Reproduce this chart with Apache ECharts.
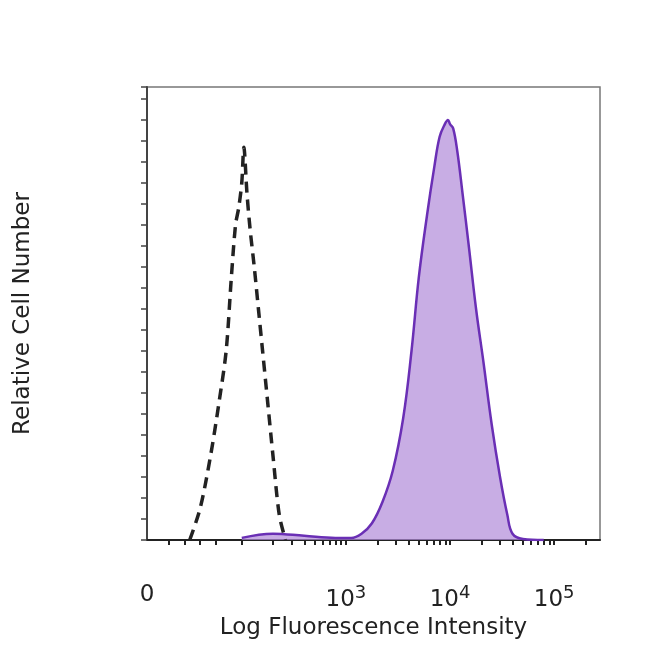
<!DOCTYPE html><html><head><meta charset="utf-8">
<script src="https://cdn.jsdelivr.net/npm/echarts@6/dist/echarts.min.js"></script>
<style>body{margin:0}#c{width:650px;height:650px}</style></head><body><div id="c"></div><script>
// x in display decades (3 = 10^3), y = relative count
const stainedX = [2.0,2.3,2.6,2.9,3.05,3.15,3.25,3.35,3.45,3.55,3.63,3.7,3.78,3.85,3.9,3.95,3.98,4.0,4.03,4.07,4.12,4.18,4.25,4.32,4.4,4.48,4.55,4.6,4.7,4.9];
const stainedY = [0.1,0.3,0.2,0.1,0.1,0.3,0.8,1.8,3.3,5.8,9,12.5,15.5,17.8,19.2,19.8,20,19.8,19.6,18.5,16.5,14,11,8.5,5.5,3,1.2,0.3,0.05,0];
const controlX = [1.5,1.6,1.7,1.78,1.85,1.9,1.94,1.97,2.0,2.02,2.05,2.08,2.12,2.16,2.2,2.25,2.3,2.36,2.42];
const controlY = [0,1.5,4,6.5,9,12.5,15,15.8,17,18.7,16.5,14.8,13,11,9,6.5,4,1.2,0];
const xLabelVals = [1.09,3,4,5];
const xLabelText = ['0','10³','10⁴','10⁵'];
const minorTicks=[];
for(let d=2;d<=5;d++){for(let k=1;k<10;k++){const v=d+Math.log10(k);if(v<5.44)minorTicks.push(v);}}
[1.3,1.45,1.6,1.75].forEach(v=>minorTicks.push(v));
const chart=echarts.init(document.getElementById('c'));
const sup={'10³':'10{s|3}','10⁴':'10{s|4}','10⁵':'10{s|5}','0':'0'};
chart.setOption({
 animation:false,
 grid:{left:147,right:50,top:87,bottom:110},
 xAxis:{type:'value',min:1.09,max:5.44,name:'Log Fluorescence Intensity',nameLocation:'middle',nameGap:70,
  nameTextStyle:{fontFamily:'DejaVu Sans',fontSize:23,color:'#222'},
  axisLine:{lineStyle:{color:'#222',width:2}},splitLine:{show:false},
  axisTick:{customValues:minorTicks,length:5,lineStyle:{color:'#222',width:2}},
  axisLabel:{customValues:xLabelVals,margin:44,fontFamily:'DejaVu Sans',fontSize:23,color:'#222',
   formatter:v=>{const i=xLabelVals.findIndex(a=>Math.abs(a-v)<1e-6);return i<0?'':sup[xLabelText[i]];},
   rich:{s:{fontSize:18,verticalAlign:'top',padding:[0,0,14,0],fontFamily:'DejaVu Sans',color:'#222'}}}},
 yAxis:{type:'value',min:0,max:21.57,interval:1,name:'Relative Cell Number',nameLocation:'middle',nameGap:112,
  nameTextStyle:{fontFamily:'DejaVu Sans',fontSize:23,color:'#222'},
  axisLine:{show:true,lineStyle:{color:'#444',width:2}},axisLabel:{show:false},splitLine:{show:false},
  axisTick:{length:6,lineStyle:{color:'#444',width:1.5}}},
 graphic:[{type:'rect',shape:{x:147,y:87,width:453,height:453},style:{fill:'none',stroke:'#777',lineWidth:1.5},silent:true}],
 series:[
  {type:'line',data:stainedX.map((x,i)=>[x,stainedY[i]]),smooth:0.4,symbol:'none',
   lineStyle:{color:'#6a2fb5',width:2.5},areaStyle:{color:'#b08ad9'}},
  {type:'line',data:controlX.map((x,i)=>[x,controlY[i]]),smooth:0.3,symbol:'none',
   lineStyle:{color:'#222',width:3.5,type:[11,7]}}
 ]});
</script></body></html>
